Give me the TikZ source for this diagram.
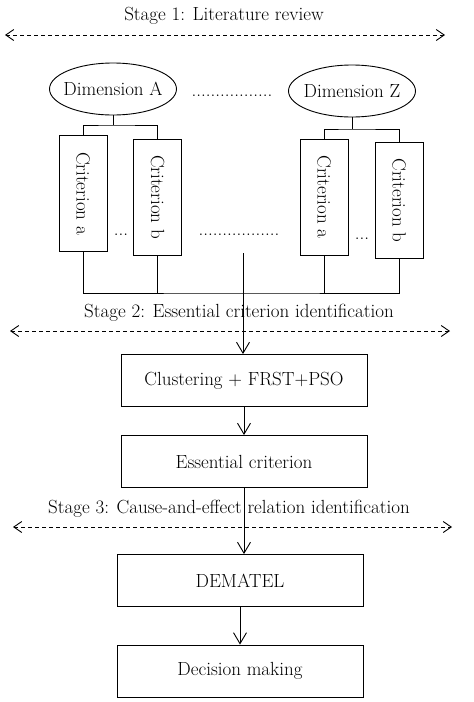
\documentclass[tikz,border=0pt]{standalone}
\usepackage{graphicx}
\usetikzlibrary{arrows.meta,shapes.geometric}
\begin{document}
\begin{tikzpicture}[x=1pt,y=-1pt,
  font=\fontsize{19}{22}\selectfont,
  line width=0.9pt,
  dim/.style={draw,ellipse,minimum width=127pt,minimum height=52pt,inner xsep=-7pt,inner ysep=0pt},
  crit/.style={draw,minimum width=48pt,minimum height=116pt,inner sep=0pt},
  proc/.style={draw,minimum width=246pt,minimum height=52pt,inner sep=0pt},
  lbl/.style={inner sep=0pt},
  arr/.style={-{Straight Barb[length=11pt,width=13pt,line width=0.9pt]}},
  dasharr/.style={dashed,dash pattern=on 4pt off 3pt,
    {Straight Barb[length=8pt,width=11pt,line width=0.9pt]}-{Straight Barb[length=8pt,width=11pt,line width=0.9pt]}}
]
\useasboundingbox (0,0) rectangle (474,702);

% Stage 1
\node[lbl] (t1) at (224,16) {Stage 1: Literature review};
\coordinate (s1l) at (5,35);
\coordinate (s1r) at (445,35);
\draw[dasharr] (s1l) -- (s1r);

\node[dim] (dA) at (113,89) {Dimension A};
\node[dim] (dZ) at (352,91) {Dimension Z};
\node[lbl] (dd1) at (232,96) {.................};

\node[crit] (cLa) at (83,193.5) {\rotatebox{-90}{Criterion a}};
\node[crit] (cLb) at (157.5,197) {\rotatebox{-90}{Criterion b}};
\node[crit] (cRa) at (324,197) {\rotatebox{-90}{Criterion a}};
\node[crit] (cRb) at (399,200.5) {\rotatebox{-90}{Criterion b}};

\node[lbl] (dd2) at (121,235) {...};
\node[lbl] (dd3) at (239,235) {.................};
\node[lbl] (dd4) at (362,239) {...};

\coordinate (jA) at (113,125);
\coordinate (jZ) at (352,129);
\draw (dA.south) -- (jA);
\draw (cLa.north) |- (jA) -| (cLb.north);
\draw (dZ.south) -- (jZ);
\draw (cRa.north) |- (jZ) -| (cRb.north);

\coordinate (bus) at (242,293);
\draw (cLa.south) |- (bus) -| (cRb.south);
\draw (cLb.south) -- (cLb.south |- bus);
\draw (cRa.south) -- (cRa.south |- bus);

% Stage 2
\node[lbl] (t2) at (239,313) {Stage 2: Essential criterion identification};
\coordinate (s2l) at (10,331);
\coordinate (s2r) at (450,331);
\draw[dasharr] (s2l) -- (s2r);

\node[proc] (clu) at (244,380.5) {Clustering + FRST+PSO};
\node[proc] (ess) at (244,461.5) {Essential criterion};

\coordinate (top) at (243,253);
\draw[arr] (top) -- (top |- clu.north);
\draw[arr] (clu) -- (ess);

% Stage 3
\node[lbl] (t3) at (229,509) {Stage 3: Cause-and-effect relation identification};
\coordinate (s3l) at (13,527);
\coordinate (s3r) at (452,527);
\draw[dasharr] (s3l) -- (s3r);

\node[proc] (dem) at (240,580.5) {DEMATEL};
\node[proc] (dec) at (240,671) {Decision making};

\draw[arr] (ess.south) -- (ess.south |- dem.north);
\draw[arr] (dem) -- (dec);
\end{tikzpicture}
\end{document}
